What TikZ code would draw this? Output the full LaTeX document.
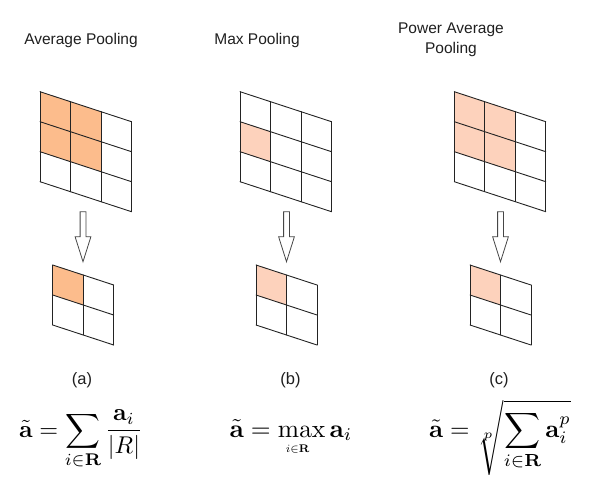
\documentclass[tikz,border=0pt]{standalone}
\usepackage[no-math]{fontspec}
\newfontfamily\titlesans{Liberation Sans}
\usepackage{amsmath}
\usepackage{graphicx}
\definecolor{avgfill}{RGB}{252,188,140}
\definecolor{lightfill}{RGB}{253,210,188}
\definecolor{gridline}{RGB}{35,35,35}
\definecolor{arrowline}{RGB}{70,70,70}
\newcommand\poolgrid[5]{% name, x0, y0, n, filled cells i/j/colour
  \begin{scope}[shift={(#2,#3)}, x={(30.5pt,-10pt)}, y={(0pt,-30pt)}]
    \coordinate (#1) at (0,0);
    \foreach \i/\j/\c in {#5} \fill[\c] (\i,\j) -- ++(1,0) -- ++(0,1) -- ++(-1,0) -- cycle;
    \foreach \k in {0,...,#4} {
      \draw[cellline] (\k,0) -- (\k,#4);
      \draw[cellline] (0,\k) -- (#4,\k);
    }
  \end{scope}}
\newcommand\hollowarrow[3]{% name, x centre, y top
  \coordinate (#1) at (#2,#3);
  \draw[blockarrow] (#1) ++(-2.9,0) -- ++(5.8,0) -- ++(0,25) -- ++(5,0)
     -- ++(-7.9,25) -- ++(-7.9,-25) -- ++(5,0) -- cycle;}
\begin{document}
\begin{tikzpicture}[x=1pt,y=-1pt,
  title/.style={font=\titlesans\fontsize{15.5}{20}\selectfont, align=center, text=black!88, inner sep=0pt},
  sublabel/.style={font=\titlesans\fontsize{16.5}{19}\selectfont, text=black!88, inner sep=0pt},
  formula/.style={anchor=base, inner sep=0pt},
  cellline/.style={draw=gridline, line width=0.9pt, line cap=round},
  blockarrow/.style={draw=arrowline, fill=white, line width=0.8pt, line join=miter}]
\useasboundingbox (0,0) rectangle (591,485);

% titles
\node[title] (tA) at (81,40) {Average Pooling};
\node[title] (tB) at (257,40) {Max Pooling};
\node[title] (tC) at (451,40) {Power Average\\Pooling};

% large grids
\poolgrid{gA}{40}{91.7}{3}{0/0/avgfill,1/0/avgfill,0/1/avgfill,1/1/avgfill}
\poolgrid{gB}{240}{91.7}{3}{0/1/lightfill}
\poolgrid{gC}{454.3}{91.7}{3}{0/0/lightfill,1/0/lightfill,0/1/lightfill,1/1/lightfill}

% arrows
\hollowarrow{aA}{83}{211.7}
\hollowarrow{aB}{286.5}{211.7}
\hollowarrow{aC}{500.5}{211.7}

% small grids
\poolgrid{sA}{52.7}{265}{2}{0/0/avgfill}
\poolgrid{sB}{256}{265}{2}{0/0/lightfill}
\poolgrid{sC}{470}{265}{2}{0/0/lightfill}

% sub labels
\node[sublabel] (lA) at (82,380) {(a)};
\node[sublabel] (lB) at (290.5,380) {(b)};
\node[sublabel] (lC) at (499,380) {(c)};

% formulas
\node[formula] (fA) at (81,437) {\scalebox{2.42}{$\displaystyle \tilde{\mathbf a} = \sum_{i\in\mathbf R}\frac{\mathbf a_i}{|R|}$}};
\node[formula] (fB) at (291,437) {\scalebox{2.55}{$\displaystyle \tilde{\mathbf a} = \max_{\scalebox{0.62}{$\scriptstyle i\in\mathbf R$}}\mathbf a_i$}};
\node[formula] (fC) at (500,437) {\scalebox{2.5}{$\displaystyle \tilde{\mathbf a} = \sqrt[p]{\sum_{i\in\mathbf R}\mathbf a_i^p}$}};
\end{tikzpicture}
\end{document}
